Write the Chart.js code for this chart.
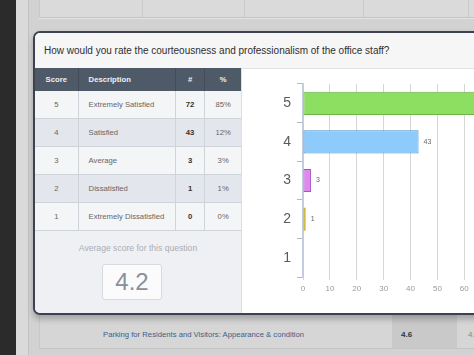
<!DOCTYPE html>
<html>
<head>
<meta charset="utf-8">
<script src="https://cdn.jsdelivr.net/npm/chart.js@4.4.1/dist/chart.umd.min.js"></script>
<style>
  html, body { margin:0; padding:0; width:474px; height:355px; overflow:hidden; background:#d2d2d2; font-family:"Liberation Sans", Arial, Helvetica, sans-serif; }
  .abs { position:absolute; }
  #darkstrip { left:0; top:0; width:16px; height:355px; background:#2b2b2b; }
  #lightstrip { left:16px; top:0; width:12px; height:355px; background:#dadada; border-right:1px solid #c2c2c2; }
  #toprow { left:39px; top:0; width:440px; height:17px; background:#dadada; border-bottom:1px solid #c4c4c4; border-left:1px solid #c8c8c8; box-shadow:0 1px 0 #e4e4e4; }
  .vdiv { position:absolute; top:0; width:1px; height:17px; background:#cbcbcb; }
  #botrow { left:39px; top:315px; width:440px; height:33px; background:#d6d6d6; border-bottom:1px solid #c4c4c4; border-left:1px solid #c8c8c8; }
  #botcell { left:392px; top:315px; width:65px; height:33px; background:#c9c9c9; }
  #modal { left:33px; top:31px; width:470px; height:280px; border:2px solid #3c4250; border-radius:7px; background:#ffffff; overflow:hidden; box-shadow:0 4px 6px rgba(0,0,0,0.25); }
  #qhead { position:absolute; left:0; top:0; width:470px; height:35px; background:#f6f6f7; border-bottom:1px solid #e2e2e2; }
  #qtext { position:absolute; left:9px; top:12px; font-size:10px; color:#2e2e2e; white-space:nowrap; }
  #leftpanel { position:absolute; left:0; top:35px; width:206px; height:245px; background:#eef0f3; border-right:1px solid #dcdfe4; }
  table { border-collapse:collapse; width:206px; font-size:7.7px; }
  th { background:#4f5a69; color:#eef1f5; font-weight:bold; height:23px; padding:0; border-right:1px solid #444c59; }
  td { height:27px; padding:0; color:#666; border-right:1px solid #cfd4db; border-bottom:1px solid #cfd4db; }
  tr.odd td { background:#f4f5f7; }
  tr.even td { background:#e3e7ed; }
  .c { text-align:center; }
  .l { text-align:left; padding-left:10px; }
  .b { font-weight:bold; color:#333; }
  #avgtext { position:absolute; left:0; width:206px; top:175px; text-align:center; font-size:8.6px; color:#a9aeb6; }
  #avgbox { position:absolute; left:67px; top:196px; width:58px; height:34px; background:#fbfbfc; border:1px solid #d6d9de; border-radius:3px; text-align:center; line-height:34px; font-size:24px; color:#8a909a; }
  #chartwrap { position:absolute; left:240px; top:68px; width:300px; height:246px; }
  #parking { left:103px; top:330px; font-size:7.7px; color:#3d5e88; white-space:nowrap; }
  #v46 { left:401px; top:330px; font-size:8px; color:#333; font-weight:bold; }
  #v4x { left:468px; top:330px; font-size:8px; color:#888; }
</style>
</head>
<body>
<div class="abs" id="darkstrip"></div>
<div class="abs" id="lightstrip"></div>
<div class="abs" id="toprow">
  <div class="vdiv" style="left:102px"></div>
  <div class="vdiv" style="left:204px"></div>
  <div class="vdiv" style="left:323px"></div>
  <div class="vdiv" style="left:428px"></div>
</div>
<div class="abs" id="botrow"></div>
<div class="abs" id="botcell"></div>
<div class="abs" id="parking">Parking for Residents and Visitors: Appearance &amp; condition</div>
<div class="abs" id="v46">4.6</div>
<div class="abs" id="v4x">4.</div>

<div class="abs" id="modal">
  <div id="qhead"><div id="qtext">How would you rate the courteousness and professionalism of the office staff?</div></div>
  <div id="leftpanel">
    <table id="tbl">
      <thead><tr><th style="width:43px">Score</th><th style="width:87px;text-align:left;padding-left:10px">Description</th><th style="width:29px">#</th><th style="width:36px;border-right:none">%</th></tr></thead>
      <tbody id="tbody"></tbody>
    </table>
    <div id="avgtext">Average score for this question</div>
    <div id="avgbox"></div>
  </div>
</div>
<div id="chartwrap"><canvas id="chart" width="300" height="246"></canvas></div>

<script>
const scores = ['5', '4', '3', '2', '1'];
const descriptions = ['Extremely Satisfied', 'Satisfied', 'Average', 'Dissatisfied', 'Extremely Dissatisfied'];
const counts = [72, 43, 3, 1, 0];
const percents = ['85%', '12%', '3%', '1%', '0%'];
const averageScore = '4.2';

const fillColors = ['#8ddf62', '#8ccbfb', '#e087f2', '#f2d83a', '#cccccc'];
const lineColors = ['#6cb349', '#4f8fc4', '#a555b8', '#b9a11d', '#999999'];

// table
const tbody = document.getElementById('tbody');
scores.forEach((s, i) => {
  const tr = document.createElement('tr');
  tr.className = i % 2 === 0 ? 'odd' : 'even';
  tr.innerHTML = '<td class="c">' + s + '</td><td class="l">' + descriptions[i] +
    '</td><td class="c b">' + counts[i] + '</td><td class="c" style="border-right:none">' + percents[i] + '</td>';
  tbody.appendChild(tr);
});
document.getElementById('avgbox').textContent = averageScore;

const valueLabels = {
  id: 'valueLabels',
  afterDatasetsDraw(chart) {
    const ctx = chart.ctx;
    const meta = chart.getDatasetMeta(0);
    ctx.save();
    ctx.font = '7px "Liberation Sans", Arial, sans-serif';
    ctx.fillStyle = '#666';
    ctx.textAlign = 'left';
    ctx.textBaseline = 'middle';
    meta.data.forEach((bar, i) => {
      const v = chart.data.datasets[0].data[i];
      if (v > 0) ctx.fillText(String(v), bar.x + 5, bar.y);
    });
    ctx.restore();
  }
};

new Chart(document.getElementById('chart'), {
  type: 'bar',
  data: {
    labels: scores,
    datasets: [{
      data: counts,
      backgroundColor: fillColors,
      borderColor: lineColors,
      borderWidth: 1,
      borderSkipped: false,
      barPercentage: 0.6,
      categoryPercentage: 1.0
    }]
  },
  options: {
    indexAxis: 'y',
    responsive: false,
    animation: false,
    devicePixelRatio: 1,
    layout: { padding: { top: 16, right: 22, bottom: 0, left: 0 } },
    plugins: { legend: { display: false }, tooltip: { enabled: false } },
    scales: {
      x: {
        min: 0, max: 80,
        ticks: { stepSize: 10, color: '#9a9a9a', font: { size: 8, family: '"Liberation Sans", Arial, sans-serif' }, padding: 4 },
        grid: { color: '#d6d6d6', lineWidth: 1, tickLength: 3 },
        border: { display: false },
        afterFit(scale) { scale.height = 37; }
      },
      y: {
        ticks: { color: '#5a5a5a', font: { size: 14, family: '"Liberation Sans", Arial, sans-serif' }, padding: 6, autoSkip: false },
        grid: { drawOnChartArea: false, drawTicks: true, tickLength: 6, color: '#b8b8b8' },
        border: { display: true, color: '#c4cde0', width: 2 },
        afterFit(scale) { scale.width = 63; }
      }
    }
  },
  plugins: [valueLabels]
});
</script>
</body>
</html>
